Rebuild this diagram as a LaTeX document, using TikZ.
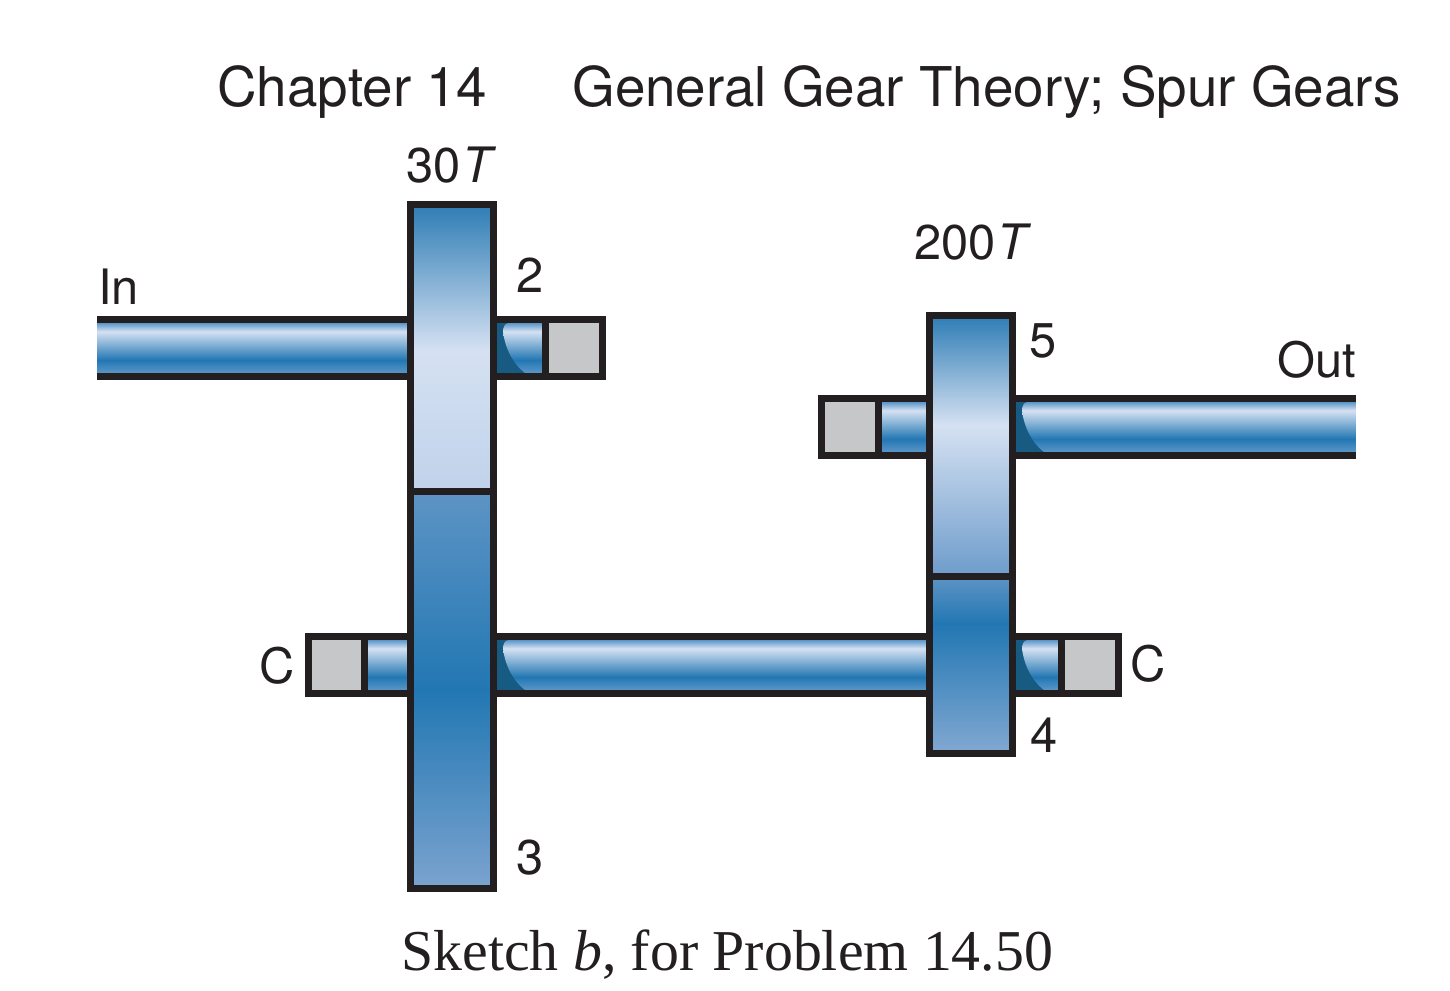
\documentclass[tikz,border=0pt]{standalone}
\usepackage{fontspec}
\setmainfont{Liberation Serif}
\newfontfamily\lblfont{TeX Gyre Heros}
\definecolor{ink}{HTML}{231F20}
\definecolor{deep}{HTML}{2277B3}
\definecolor{pale}{HTML}{D5E1F2}
\definecolor{teal}{HTML}{175A82}
\definecolor{capgray}{HTML}{C6C7C9}
\definecolor{gA}{HTML}{C0D2EA}
\definecolor{gB}{HTML}{2F7DB5}
\definecolor{gC}{HTML}{7BA3CF}
\definecolor{gD}{HTML}{5E94C5}
\definecolor{gE}{HTML}{6E9CCB}
\definecolor{gF}{HTML}{82A8D2}
\definecolor{sA}{HTML}{5A96C8}
% TikZ fits the box of a path to the stops 25bp..75bp of a shading
\pgfdeclareverticalshading{gearTwo}{100bp}{color(0bp)=(gA); color(25bp)=(gA); color(49.5bp)=(pale); color(75bp)=(gB); color(100bp)=(gB)}
\pgfdeclareverticalshading{gearThree}{100bp}{color(0bp)=(gC); color(25bp)=(gC); color(50bp)=(deep); color(75bp)=(gD); color(100bp)=(gD)}
\pgfdeclareverticalshading{gearFive}{100bp}{color(0bp)=(gE); color(25bp)=(gE); color(54bp)=(pale); color(75bp)=(gB); color(100bp)=(gB)}
\pgfdeclareverticalshading{gearFour}{100bp}{color(0bp)=(gF); color(25bp)=(gF); color(61.5bp)=(deep); color(75bp)=(gD); color(100bp)=(gD)}
\pgfdeclareverticalshading{shaftBand}{100bp}{color(0bp)=(sA); color(25bp)=(sA); color(38bp)=(deep); color(66.5bp)=(pale); color(75bp)=(sA); color(100bp)=(sA)}
\tikzset{
  ln/.style={draw=ink,line width=3.6pt,line join=miter},
  capbox/.style={ln,fill=capgray},
  lbl/.style={font=\lblfont\fontsize{24.4}{24.4}\selectfont,text=ink,inner sep=0pt,anchor=base west},
  ttl/.style={font=\lblfont\fontsize{27.4}{27.4}\selectfont,text=ink,inner sep=0pt,anchor=base west},
  captext/.style={font=\fontsize{28.9}{28.9}\selectfont,text=ink,inner sep=0pt,anchor=base west}
}
% plain shaft: x1, x2, inner top y
\newcommand{\shaftrun}[3]{%
  \shade[shading=shaftBand] (#1,#3) rectangle (#2,#3+50);
  \draw[ln,line cap=butt] (#1,#3-3.5) -- (#2,#3-3.5) (#1,#3+53.5) -- (#2,#3+53.5);}
% shaft with the shadowed corner at its left: x1, x2, inner top y
\newcommand{\shaftlit}[3]{%
  \fill[teal] (#1,#3) rectangle (#2,#3+50);
  \begin{scope}
  \clip (#2,#3) -- (#1+11,#3) .. controls (#1+7,#3+1) and (#1+6,#3+5) .. (#1+6,#3+9)
     .. controls (#1+8,#3+24) and (#1+15,#3+40) .. (#1+28,#3+50) -- (#2,#3+50) -- cycle;
  \shade[shading=shaftBand] (#1,#3) rectangle (#2,#3+50);
  \end{scope}
  \draw[ln,line cap=butt] (#1,#3-3.5) -- (#2,#3-3.5) (#1,#3+53.5) -- (#2,#3+53.5);}
\begin{document}
\begin{tikzpicture}[x=0.5pt,y=-0.5pt]
\useasboundingbox (0,0) rectangle (1450,990);
% shafts
\shaftrun{97}{410}{323}
\shaftlit{497}{545}{323}
\shaftrun{365}{410}{640}
\shaftlit{497}{930}{640}
\shaftlit{1016}{1061}{640}
\shaftrun{879}{930}{402}
\shaftlit{1016}{1356}{402}
% gears
\shade[shading=gearTwo] (411,205) rectangle (493,491);
\shade[shading=gearThree] (411,491) rectangle (493,888);
\draw[ln] (410.7,204.5) rectangle (493.5,888.5);
\draw[ln] (410.7,491.5) -- (493.5,491.5);
\shade[shading=gearFive] (930,316) rectangle (1012,576);
\shade[shading=gearFour] (930,576) rectangle (1012,753);
\draw[ln] (929.5,315.5) rectangle (1012.5,753.5);
\draw[ln] (929.5,576.5) -- (1012.5,576.5);
% bearing caps
\draw[capbox] (545.5,319.5) rectangle (602.5,376.5);
\draw[capbox] (308.5,636.5) rectangle (364.5,693.5);
\draw[capbox] (1061.5,636.5) rectangle (1118.5,693.5);
\draw[capbox] (821.5,398.5) rectangle (878.5,455.5);
% labels
\node[ttl] (title1) at (217,106) {Chapter 14};
\node[ttl] (title2) at (572,106) {General Gear Theory; Spur Gears};
\node[lbl] (t30) at (406,182) {30\kern1pt\textit{T}};
\node[lbl] (t200) at (914,259) {200\kern1pt\textit{T}};
\node[lbl] (n2) at (516,292) {2};
\node[lbl] (n3) at (516,874) {3};
\node[lbl] (n4) at (1030,752) {4};
\node[lbl] (n5) at (1029,357) {5};
\node[lbl] (in) at (98,304) {In};
\node[lbl] (out) at (1277,377) {Out};
\node[lbl] (cl) at (259,683) {C};
\node[lbl] (cr) at (1130,681) {C};
\node[captext] (caption) at (401,970) {Sketch \textit{b}, for Problem 14.50};
\end{tikzpicture}
\end{document}
